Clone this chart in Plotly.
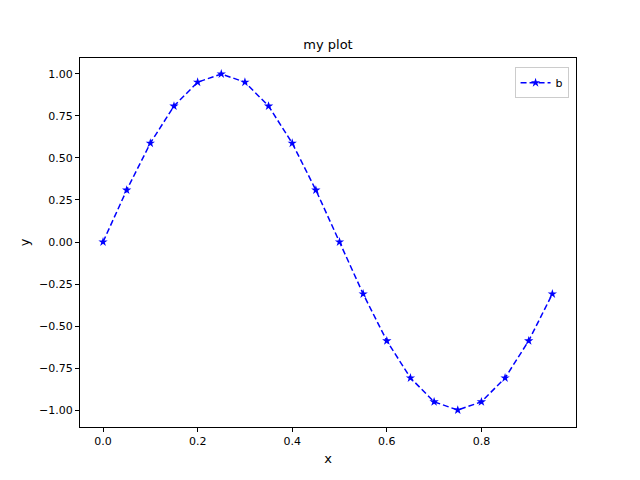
import plotly.graph_objects as go

x = [0.0, 0.05, 0.1, 0.15, 0.2, 0.25, 0.3, 0.35, 0.4, 0.45, 0.5, 0.55, 0.6, 0.65, 0.7, 0.75, 0.8, 0.85, 0.9, 0.95]
y = [0.0, 0.309, 0.588, 0.809, 0.951, 1.0, 0.951, 0.809, 0.588, 0.309, 0.0, -0.309, -0.588, -0.809, -0.951, -1.0, -0.951, -0.809, -0.588, -0.309]
x_ticks = [0.0, 0.2, 0.4, 0.6, 0.8]
x_tick_labels = ["0.0", "0.2", "0.4", "0.6", "0.8"]
y_ticks = [-1.0, -0.75, -0.5, -0.25, 0.0, 0.25, 0.5, 0.75, 1.0]
y_tick_labels = ["−1.00", "−0.75", "−0.50", "−0.25", "0.00", "0.25", "0.50", "0.75", "1.00"]

fig = go.Figure(go.Scatter(
    x=x, y=y, name="b", mode="lines+markers",
    line=dict(color="blue", dash="6px,3px", width=1.5),
    marker=dict(symbol="star", size=7, color="blue"),
))
axis_common = dict(showgrid=False, zeroline=False, showline=True, linecolor="black",
                   mirror=True, ticks="outside", ticklen=4, tickcolor="black")
fig.update_layout(
    width=640, height=480,
    margin=dict(l=72, r=72, t=50, b=61),
    paper_bgcolor="white", plot_bgcolor="white",
    font=dict(family="DejaVu Sans", size=11, color="black"),
    title=dict(text="my plot", x=0.5, xref="paper", y=1 - 36/480, yanchor="middle", font=dict(size=13)),
    xaxis=dict(range=[-0.0487, 1.0], tickvals=x_ticks, ticktext=x_tick_labels,
               title=dict(text="x", standoff=6), **axis_common),
    yaxis=dict(range=[-1.101, 1.095], tickvals=y_ticks, ticktext=y_tick_labels,
               title=dict(text="y", standoff=6), **axis_common),
    showlegend=True,
    legend=dict(x=0.985, y=0.975, xanchor="right", yanchor="top",
                bordercolor="#cccccc", borderwidth=1, bgcolor="white"),
)
fig.write_html("out.html")
